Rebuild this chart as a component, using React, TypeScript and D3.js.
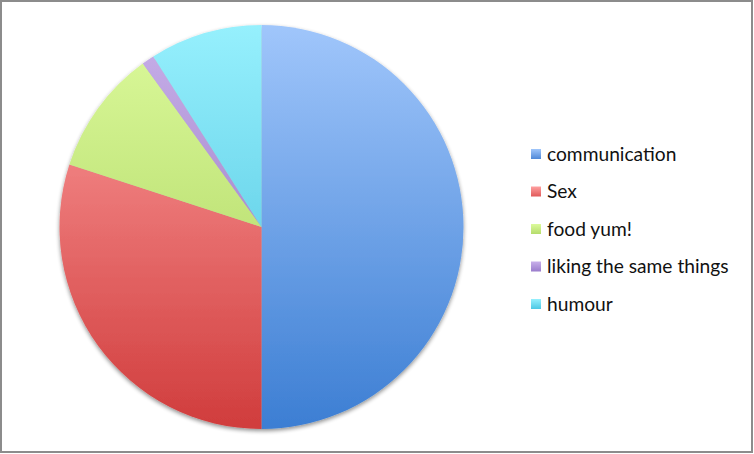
import React from "react";
import * as d3 from "d3";

const categories = ["communication", "Sex", "food yum!", "liking the same things", "humour"];
const values = [50, 30, 10, 1, 9];
const topColors = ["#a0c6fb", "#ffa0a0", "#dcfa9c", "#c8b0ea", "#96f0fd"];
const bottomColors = ["#3c7ed3", "#d03c3c", "#a6cf58", "#8c6bb6", "#43bcda"];
const legendColors = ["#4f88d8", "#e05a5a", "#b5dc6c", "#9a7ccc", "#4cc8e4"];

const width = 754;
const height = 454;
const cx = 261.5;
const cy = 227;
const radius = 202;

export default function App() {
  const pie = d3
    .pie<number>()
    .sort(null)
    .value((d) => d);
  const arcs = pie(values);
  const arc = d3.arc<d3.PieArcDatum<number>>().innerRadius(0).outerRadius(radius);

  const legendY = d3
    .scalePoint<string>()
    .domain(categories)
    .range([154, 304]);

  return (
    <div style={{ position: "absolute", left: 0, top: 0 }}>
      <svg width={width} height={height} style={{ display: "block" }}>
        <defs>
          {categories.map((c, i) => (
            <linearGradient
              key={c}
              id={`g${i}`}
              gradientUnits="userSpaceOnUse"
              x1={0}
              y1={-radius}
              x2={0}
              y2={radius}
            >
              <stop offset="0%" stopColor={topColors[i]} />
              <stop offset="100%" stopColor={bottomColors[i]} />
            </linearGradient>
          ))}
          {categories.map((c, i) => (
            <linearGradient key={c + "l"} id={`l${i}`} x1="0" y1="0" x2="0" y2="1">
              <stop offset="0%" stopColor={topColors[i]} />
              <stop offset="100%" stopColor={legendColors[i]} />
            </linearGradient>
          ))}
          <filter id="shadow" x="-10%" y="-10%" width="120%" height="120%">
            <feGaussianBlur in="SourceAlpha" stdDeviation="2" />
            <feOffset dx="0" dy="2" result="b" />
            <feComponentTransfer>
              <feFuncA type="linear" slope="0.45" />
            </feComponentTransfer>
            <feMerge>
              <feMergeNode />
              <feMergeNode in="SourceGraphic" />
            </feMerge>
          </filter>
        </defs>
        <rect x={1} y={1} width={751} height={451} fill="#fff" stroke="#8c8c8c" strokeWidth={2} />
        <g transform={`translate(${cx},${cy})`} filter="url(#shadow)">
          {arcs.map((a, i) => (
            <path key={categories[i]} d={arc(a) || ""} fill={`url(#g${i})`} />
          ))}
        </g>
        <g fontFamily="Lato, 'Open Sans', sans-serif" fontSize={19.2} fill="#111">
          {categories.map((c, i) => {
            const y = legendY(c) as number;
            return (
              <g key={c}>
                <rect x={531} y={y - 5} width={10} height={10} fill={`url(#l${i})`} />
                <text x={547} y={y} dy="0.35em">
                  {c}
                </text>
              </g>
            );
          })}
        </g>
      </svg>
    </div>
  );
}
